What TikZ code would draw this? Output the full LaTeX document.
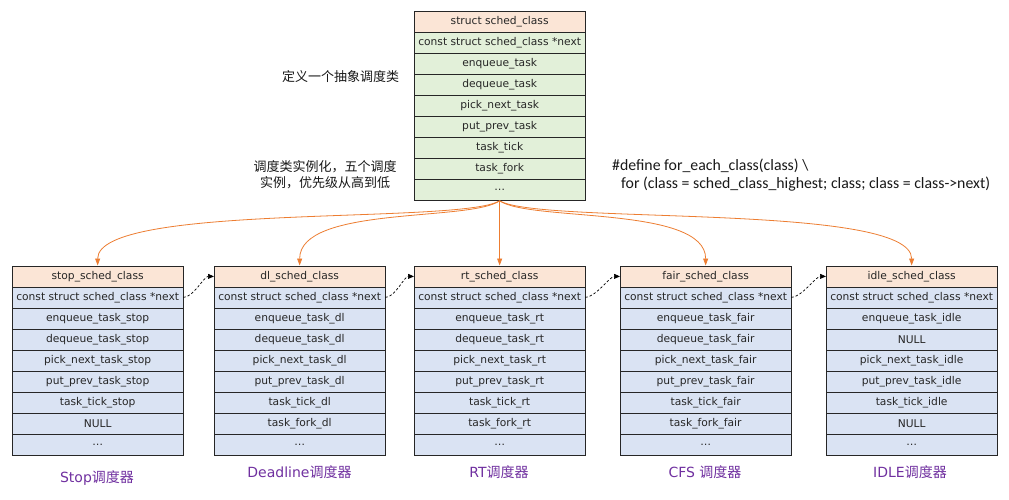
\documentclass[tikz,border=0pt]{standalone}
\usepackage{fontspec}
\setmainfont{DejaVu Sans}
\newfontfamily\cjk{Noto Sans CJK SC}
\newfontfamily\calfont{Carlito}
\usetikzlibrary{arrows.meta}
\definecolor{hdr}{HTML}{FBE5D6}
\definecolor{grn}{HTML}{E2F0D9}
\definecolor{blu}{HTML}{DAE3F3}
\definecolor{org}{HTML}{ED7D31}
\definecolor{pur}{HTML}{7030A0}
\tikzset{
  cell/.style={draw=black!85, line width=0.8pt, minimum width=170.5pt, minimum height=21pt,
    inner sep=0pt, anchor=north west, font=\fontsize{10.7}{12}\selectfont, text=black!85},
  oarr/.style={draw=org, line width=0.8pt, -{Triangle[length=7pt,width=5pt]}},
  darr/.style={draw=black, line width=0.7pt, dash pattern=on 2.5pt off 2pt, -{Triangle[length=6pt,width=5pt]}},
  lbl/.style={font=\cjk\fontsize{13}{16}\selectfont, text=black!90, inner sep=0pt},
  plbl/.style={font=\fontsize{14}{16}\selectfont, text=pur, inner sep=0pt},
}
\newcommand\mktable[6]{%
  \node[cell,fill=hdr] (#1-0) at (#2,#3) {#4};
  \foreach \t [count=\i] in {#6} {\node[cell,fill=#5] (#1-\i) at (#2,{#3+21*\i}) {\t};}
}
\begin{document}
\begin{tikzpicture}[x=1pt,y=-1pt]
\fill[white] (0,0) rectangle (1009,500);
\useasboundingbox (0,0) rectangle (1009,500);

\mktable{top}{414}{11}{struct sched\_class}{grn}{const struct sched\_class *next,enqueue\_task,dequeue\_task,pick\_next\_task,put\_prev\_task,task\_tick,task\_fork,\ldots}

\mktable{s}{12}{265.5}{stop\_sched\_class}{blu}{const struct sched\_class *next,enqueue\_task\_stop,dequeue\_task\_stop,pick\_next\_task\_stop,put\_prev\_task\_stop,task\_tick\_stop,NULL,\ldots}
\mktable{d}{214}{265.5}{dl\_sched\_class}{blu}{const struct sched\_class *next,enqueue\_task\_dl,dequeue\_task\_dl,pick\_next\_task\_dl,put\_prev\_task\_dl,task\_tick\_dl,task\_fork\_dl,\ldots}
\mktable{r}{414}{265.5}{rt\_sched\_class}{blu}{const struct sched\_class *next,enqueue\_task\_rt,dequeue\_task\_rt,pick\_next\_task\_rt,put\_prev\_task\_rt,task\_tick\_rt,task\_fork\_rt,\ldots}
\mktable{f}{620}{265.5}{fair\_sched\_class}{blu}{const struct sched\_class *next,enqueue\_task\_fair,dequeue\_task\_fair,pick\_next\_task\_fair,put\_prev\_task\_fair,task\_tick\_fair,task\_fork\_fair,\ldots}
\mktable{i}{826}{265.5}{idle\_sched\_class}{blu}{const struct sched\_class *next,enqueue\_task\_idle,NULL,pick\_next\_task\_idle,put\_prev\_task\_idle,task\_tick\_idle,NULL,\ldots}

% orange arrows
\draw[oarr] (top-8.south) .. controls +(-40,24) and +(0,-63) .. (s-0.north);
\draw[oarr] (top-8.south) .. controls +(-30,21) and +(0,-60) .. (d-0.north);
\draw[oarr] (top-8.south) -- (r-0.north);
\draw[oarr] (top-8.south) .. controls +(30,21) and +(0,-60) .. (f-0.north);
\draw[oarr] (top-8.south) .. controls +(40,24) and +(0,-63) .. (i-0.north);

% dashed next links
\draw[darr] (s-1.east) .. controls +(10,0) and +(-10,0) .. (d-0.west);
\draw[darr] (d-1.east) .. controls +(10,0) and +(-10,0) .. (r-0.west);
\draw[darr] (r-1.east) .. controls +(10,0) and +(-10,0) .. (f-0.west);
\draw[darr] (f-1.east) .. controls +(10,0) and +(-10,0) .. (i-0.west);

% labels
\node[lbl] (l1) at (340.5,77) {定义一个抽象调度类};
\node[lbl, align=center] (l2) at (325,175) {调度类实例化，五个调度\\实例，优先级从高到低};
\node[font=\calfont\fontsize{15.8}{18.5}\selectfont, text=black!90, align=left, anchor=west, inner sep=0pt] (def) at (612,175)
  {\#define for\_each\_class(class) \textbackslash\\\hspace*{9pt}for (class = sched\_class\_highest; class; class = class->next)};

\node[plbl] (ls) at (97,478) {Stop{\cjk 调度器}};
\node[plbl] (ld) at (299.5,472) {Deadline{\cjk 调度器}};
\node[plbl] (lr) at (499,472) {RT{\cjk 调度器}};
\node[plbl] (lf) at (705,472) {CFS {\cjk 调度器}};
\node[plbl] (li) at (910,472) {IDLE{\cjk 调度器}};
\end{tikzpicture}
\end{document}
